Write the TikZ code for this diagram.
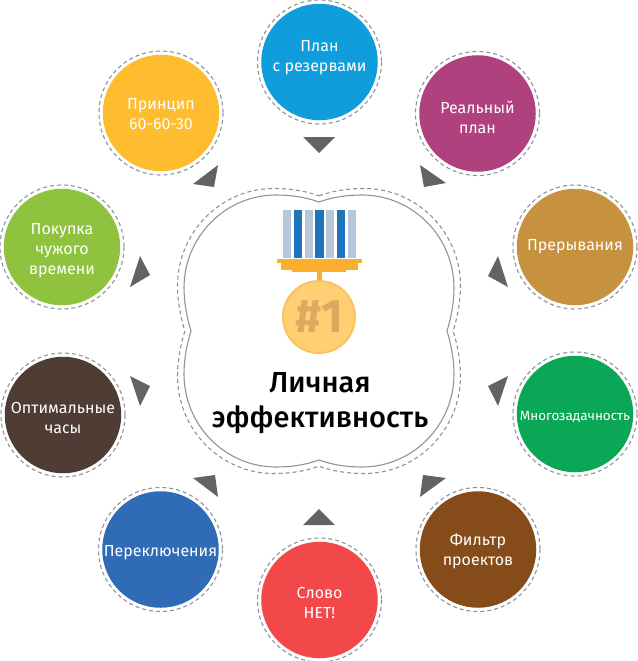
\documentclass[tikz,border=0pt]{standalone}
\usepackage{fontspec}
\setmainfont{Fira Sans}
\newfontfamily\headfont{Fira Sans Medium}
\definecolor{cPlan}{HTML}{0F9DDB}
\definecolor{cYellow}{HTML}{FDBD2F}
\definecolor{cPurple}{HTML}{B0417F}
\definecolor{cOchre}{HTML}{C6923F}
\definecolor{cGreen}{HTML}{0AA757}
\definecolor{cBrown}{HTML}{854C19}
\definecolor{cRed}{HTML}{F24849}
\definecolor{cBlue}{HTML}{2F6CB5}
\definecolor{cDark}{HTML}{4F3C34}
\definecolor{cLime}{HTML}{8FC33F}
\definecolor{ringgray}{HTML}{8C929C}
\definecolor{arrowgray}{HTML}{636363}
\definecolor{medalfill}{HTML}{FFD073}
\definecolor{medalring}{HTML}{FAC260}
\definecolor{medalink}{HTML}{D9AA5F}
\definecolor{ribbonlight}{HTML}{B7C6DA}
\definecolor{ribbonblue}{HTML}{1F75BA}
\definecolor{barorange}{HTML}{FBAF2F}
\tikzset{
  bubble/.style={circle,minimum size=116.5pt,inner sep=0pt,align=center,text=white,
    font=\fontsize{16}{20}\selectfont,fill=#1},
  ring/.style={draw=ringgray,line width=1.1pt,dash pattern=on 4pt off 3pt},
  tri/.style={fill=arrowgray,draw=none},
  lobe/.style={draw=gray!85,line width=1.1pt},
  lobering/.style={draw=ringgray,line width=1.1pt,dash pattern=on 4pt off 3pt},
}
% strut that moves the text of a bubble down by #1 (first line) or up by #1 (last line)
\newlength{\shiftlen}
\newcommand{\dn}[1]{\setlength{\shiftlen}{#1pt}\rule{0pt}{\dimexpr 11.5pt+2\shiftlen\relax}}
\newcommand{\up}[1]{\setlength{\shiftlen}{#1pt}\rule[\dimexpr -4pt-2\shiftlen\relax]{0pt}{0pt}}
\newcommand{\quatrefoil}{(0,-129) .. controls (14,-134) and (28,-136) .. (43,-136)
  .. controls (94,-136) and (135,-94) .. (135,-43)
  .. controls (135,-28) and (132,-13) .. (128,0)
  .. controls (132,13) and (135,28) .. (135,43)
  .. controls (135,94) and (94,136) .. (43,136)
  .. controls (28,136) and (14,134) .. (0,129)
  .. controls (-14,134) and (-28,136) .. (-43,136)
  .. controls (-94,136) and (-135,94) .. (-135,43)
  .. controls (-135,28) and (-132,13) .. (-128,0)
  .. controls (-132,-13) and (-135,-28) .. (-135,-43)
  .. controls (-135,-94) and (-94,-136) .. (-43,-136)
  .. controls (-28,-136) and (-14,-134) .. (0,-129) -- cycle}
\begin{document}
\begin{tikzpicture}[x=1pt,y=-1pt]
\useasboundingbox (0,0) rectangle (637,661);
% central shape
\begin{scope}[shift={(319,331)}]
  \draw[lobe] \quatrefoil;
  \begin{scope}[scale=1.048]
    \draw[lobering] \quatrefoil;
  \end{scope}
\end{scope}
% medal
\foreach \i in {0,2,4,6} \fill[ribbonlight] (283+\i*10.75,210) rectangle ++(8.4,48);
\foreach \i in {1,3,5} \fill[ribbonblue] (283+\i*10.75,210) rectangle ++(8.4,48);
\fill[barorange] (277,259) rectangle (362,263);
\fill[barorange] (281,263) rectangle (358,270);
\fill[barorange] (292,270) rectangle (346,272);
\fill[barorange] (317,272) rectangle (322,280);
\node[circle,minimum size=72pt,inner sep=0pt,fill=medalfill,draw=medalring,line width=2pt,
      text=medalink,font=\fontsize{47}{47}\selectfont\bfseries] (medal) at (319,317) {\#1};
% title
\node[font=\fontsize{29}{35}\headfont,align=center,text=black] (title) at (320,403) {Личная\\эффективность};
% bubbles
\node[bubble=cPlan] (plan) at (319.5,62) {План\\с резервами\up{4}};
\node[bubble=cYellow] (princip) at (161,113) {\dn{1}Принцип\\60-60-30};
\node[bubble=cPurple] (real) at (477.5,113.5) {\dn{4}Реальный\\план};
\node[bubble=cOchre] (prer) at (575,247) {Прерывания};
\node[bubble=cLime] (pokup) at (62,247) {\dn{3}Покупка\\чужого\\времени};
\node[bubble=cGreen] (multi) at (575,414) {\fontsize{13.4}{16}\selectfont\dn{2}Многозадачность};
\node[bubble=cDark] (opt) at (63,415) {\dn{3}Оптимальные\\часы};
\node[bubble=cBrown] (filtr) at (478,549.5) {\dn{2}Фильтр\\проектов};
\node[bubble=cBlue] (perekl) at (160.5,549.5) {\dn{2.5}Переключения};
\node[bubble=cRed] (net) at (319.5,600) {\dn{3}Слово\\НЕТ!};
\foreach \n in {plan,princip,real,prer,pokup,multi,opt,filtr,perekl,net}
  \draw[ring] (\n.center) circle (62);
% triangles
\fill[tri] (303,137) -- (335,137) -- (319,153) -- cycle;
\fill[tri] (420,165) -- (446,183) -- (424,187) -- cycle;
\fill[tri] (218,165) -- (193,184) -- (214,187) -- cycle;
\fill[tri] (140,256) -- (150,275) -- (130,287) -- cycle;
\fill[tri] (498,256) -- (488,276) -- (508,287) -- cycle;
\fill[tri] (130,376) -- (150,386) -- (140,406) -- cycle;
\fill[tri] (508,376) -- (488,386) -- (498,406) -- cycle;
\fill[tri] (193,478) -- (215,475) -- (218,497) -- cycle;
\fill[tri] (423,475) -- (446,478) -- (420,497) -- cycle;
\fill[tri] (303,525) -- (335,525) -- (319,509) -- cycle;
\end{tikzpicture}
\end{document}
